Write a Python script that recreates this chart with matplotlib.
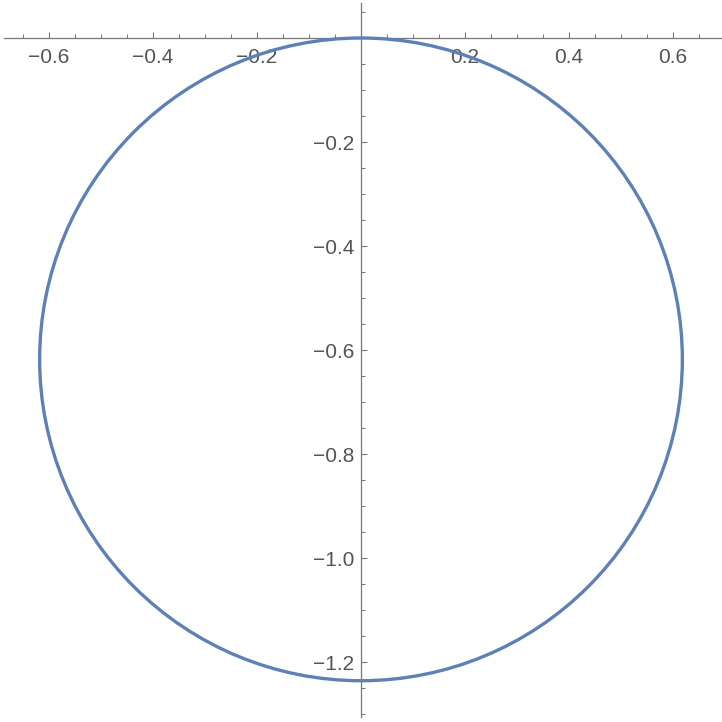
import numpy as np
import matplotlib.pyplot as plt
from matplotlib.patches import Circle
from matplotlib.ticker import MultipleLocator

# circle through the origin, centre on the negative y axis
center = (0.0, -0.618)
radius = 0.618

xticks = [-0.6, -0.4, -0.2, 0.2, 0.4, 0.6]
xlabels = ['\u22120.6', '\u22120.4', '\u22120.2', '0.2', '0.4', '0.6']
yticks = [-1.2, -1.0, -0.8, -0.6, -0.4, -0.2]
ylabels = ['\u22121.2', '\u22121.0', '\u22120.8', '\u22120.6', '\u22120.4', '\u22120.2']

plt.rcParams['font.family'] = ['Liberation Sans', 'DejaVu Sans']

fig = plt.figure(figsize=(7.22, 7.22), dpi=100)
ax = fig.add_axes([0, 0, 1, 1])
ax.patch.set_alpha(0)

ax.add_patch(Circle(center, radius, fill=False, ec='#5E81B5', lw=2.4, zorder=3))

ax.set_xlim(-361 / 520, 361 / 520)
ax.set_ylim(-684 / 520, 38 / 520)

for s in ['top', 'right']:
    ax.spines[s].set_visible(False)
ax.spines['left'].set_position(('data', 0))
ax.spines['bottom'].set_position(('data', 0))
ax.spines['left'].set_bounds(-679 / 520, 35 / 520)
ax.spines['bottom'].set_bounds(-357 / 520, 361 / 520)
for s in ['left', 'bottom']:
    ax.spines[s].set_color('#777777')
    ax.spines[s].set_linewidth(0.9)

ax.set_xticks(xticks)
ax.set_xticklabels(xlabels)
ax.set_yticks(yticks)
ax.set_yticklabels(ylabels)
ax.xaxis.set_minor_locator(MultipleLocator(0.05))
ax.yaxis.set_minor_locator(MultipleLocator(0.05))

ax.tick_params(which='both', direction='in', color='#777777', labelcolor='#555555',
               labelsize=15)
ax.tick_params(which='major', length=4.5, width=0.8)
ax.tick_params(which='minor', length=2.6, width=0.7)
ax.tick_params(axis='x', pad=7)
ax.tick_params(axis='y', pad=5)

fig.savefig('out.png', dpi=100)
